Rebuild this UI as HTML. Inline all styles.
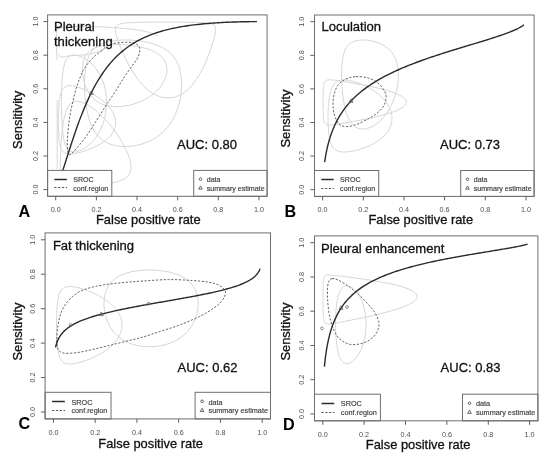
<!DOCTYPE html>
<html><head><meta charset="utf-8"><title>SROC curves</title>
<style>html,body{margin:0;padding:0;background:#fff}svg{display:block}</style></head>
<body>
<svg width="550" height="457" viewBox="0 0 550 457" font-family='"Liberation Sans", Arial, Helvetica, sans-serif'>
<rect width="550" height="457" fill="#fff"/>
<clipPath id="clipA"><rect x="47.6" y="14.9" width="219.5" height="181.4"/></clipPath>
<g clip-path="url(#clipA)" fill="none">
<path d="M215.6 29.5 L215.5 28.4 L215.4 27.5 L215.1 26.7 L214.8 26.1 L214.3 25.5 L213.7 25.0 L213.1 24.5 L212.3 24.2 L211.4 23.9 L210.4 23.6 L209.3 23.4 L208.1 23.2 L206.7 23.0 L205.3 22.8 L203.7 22.7 L202.0 22.6 L200.2 22.5 L198.3 22.4 L196.3 22.4 L194.1 22.3 L191.9 22.3 L189.6 22.2 L187.1 22.2 L184.6 22.2 L182.0 22.1 L179.3 22.1 L176.6 22.1 L173.8 22.1 L171.0 22.1 L168.1 22.1 L165.2 22.1 L162.3 22.1 L159.4 22.1 L156.6 22.1 L153.8 22.1 L151.0 22.2 L148.3 22.2 L145.6 22.2 L143.0 22.3 L140.5 22.3 L138.1 22.4 L135.8 22.4 L133.6 22.5 L131.6 22.6 L129.6 22.7 L127.8 22.8 L126.0 23.0 L124.4 23.2 L123.0 23.4 L121.6 23.6 L120.4 23.9 L119.4 24.2 L118.4 24.5 L117.6 25.0 L116.9 25.5 L116.3 26.1 L115.9 26.7 L115.6 27.5 L115.4 28.4 L115.3 29.5 L115.4 30.6 L115.6 32.0 L115.9 33.5 L116.3 35.2 L116.9 37.2 L117.6 39.3 L118.4 41.6 L119.4 44.2 L120.4 46.9 L121.6 49.9 L123.0 53.0 L124.4 56.2 L126.0 59.5 L127.8 63.0 L129.6 66.4 L131.6 69.8 L133.6 73.2 L135.8 76.5 L138.1 79.6 L140.5 82.6 L143.0 85.4 L145.6 88.0 L148.3 90.2 L151.0 92.3 L153.8 94.0 L156.6 95.4 L159.4 96.5 L162.3 97.4 L165.2 97.8 L168.1 98.0 L171.0 97.8 L173.8 97.4 L176.6 96.5 L179.3 95.4 L182.0 94.0 L184.6 92.3 L187.1 90.2 L189.6 88.0 L191.9 85.4 L194.1 82.6 L196.3 79.6 L198.3 76.5 L200.2 73.2 L202.0 69.8 L203.7 66.4 L205.3 63.0 L206.7 59.5 L208.1 56.2 L209.3 53.0 L210.4 49.9 L211.4 46.9 L212.3 44.2 L213.1 41.6 L213.7 39.3 L214.3 37.2 L214.8 35.2 L215.1 33.5 L215.4 32.0 L215.5 30.6Z" stroke="#d6d6d6" stroke-width="1"/>
<path d="M181.6 84.4 L181.5 81.2 L181.3 78.0 L180.9 75.0 L180.4 72.1 L179.7 69.3 L178.9 66.6 L177.9 64.1 L176.8 61.7 L175.5 59.5 L174.1 57.4 L172.6 55.5 L170.9 53.7 L169.1 52.0 L167.1 50.5 L165.0 49.1 L162.8 47.8 L160.5 46.6 L158.1 45.6 L155.6 44.6 L153.0 43.8 L150.3 43.0 L147.6 42.4 L144.8 41.8 L142.0 41.3 L139.2 40.9 L136.3 40.6 L133.5 40.3 L130.6 40.1 L127.8 40.0 L125.1 40.0 L122.4 40.0 L119.7 40.1 L117.1 40.3 L114.7 40.6 L112.2 40.9 L109.9 41.3 L107.7 41.8 L105.6 42.4 L103.6 43.0 L101.7 43.8 L99.9 44.6 L98.2 45.6 L96.6 46.6 L95.2 47.8 L93.8 49.1 L92.6 50.5 L91.4 52.0 L90.3 53.7 L89.4 55.5 L88.5 57.4 L87.7 59.5 L87.0 61.7 L86.4 64.1 L85.9 66.6 L85.5 69.3 L85.1 72.1 L84.8 75.0 L84.7 78.0 L84.5 81.2 L84.5 84.4 L84.5 87.7 L84.7 91.0 L84.8 94.4 L85.1 97.7 L85.5 101.1 L85.9 104.4 L86.4 107.7 L87.0 110.9 L87.7 114.0 L88.5 117.0 L89.4 119.9 L90.3 122.7 L91.4 125.3 L92.6 127.8 L93.8 130.1 L95.2 132.3 L96.6 134.3 L98.2 136.1 L99.9 137.8 L101.7 139.4 L103.6 140.8 L105.6 142.0 L107.7 143.1 L109.9 144.0 L112.2 144.8 L114.7 145.4 L117.1 145.9 L119.7 146.2 L122.4 146.4 L125.1 146.5 L127.8 146.4 L130.6 146.2 L133.5 145.9 L136.3 145.4 L139.2 144.8 L142.0 144.0 L144.8 143.1 L147.6 142.0 L150.3 140.8 L153.0 139.4 L155.6 137.8 L158.1 136.1 L160.5 134.3 L162.8 132.3 L165.0 130.1 L167.1 127.8 L169.1 125.3 L170.9 122.7 L172.6 119.9 L174.1 117.0 L175.5 114.0 L176.8 110.9 L177.9 107.7 L178.9 104.4 L179.7 101.1 L180.4 97.7 L180.9 94.4 L181.3 91.0 L181.5 87.7Z" stroke="#d6d6d6" stroke-width="1"/>
<path d="M167.0 69.8 L166.9 68.1 L166.7 66.5 L166.4 64.9 L165.9 63.4 L165.2 61.9 L164.4 60.5 L163.5 59.1 L162.5 57.8 L161.3 56.6 L160.0 55.4 L158.5 54.3 L157.0 53.3 L155.3 52.3 L153.5 51.3 L151.6 50.5 L149.6 49.7 L147.5 48.9 L145.3 48.3 L143.1 47.7 L140.8 47.1 L138.4 46.6 L136.1 46.1 L133.6 45.8 L131.2 45.4 L128.7 45.1 L126.3 44.9 L123.8 44.7 L121.4 44.6 L119.0 44.5 L116.7 44.5 L114.4 44.5 L112.2 44.6 L110.0 44.7 L107.9 44.9 L105.9 45.1 L103.9 45.4 L102.1 45.8 L100.3 46.1 L98.6 46.6 L97.0 47.1 L95.5 47.7 L94.1 48.3 L92.8 48.9 L91.5 49.7 L90.4 50.5 L89.3 51.3 L88.4 52.3 L87.5 53.3 L86.6 54.3 L85.9 55.4 L85.2 56.6 L84.7 57.8 L84.1 59.1 L83.7 60.5 L83.3 61.9 L83.0 63.4 L82.8 64.9 L82.6 66.5 L82.5 68.1 L82.5 69.8 L82.5 71.5 L82.6 73.2 L82.8 75.0 L83.0 76.8 L83.3 78.5 L83.7 80.3 L84.1 82.1 L84.7 83.9 L85.2 85.6 L85.9 87.3 L86.6 89.0 L87.5 90.6 L88.4 92.2 L89.3 93.8 L90.4 95.2 L91.5 96.6 L92.8 98.0 L94.1 99.2 L95.5 100.4 L97.0 101.4 L98.6 102.4 L100.3 103.3 L102.1 104.1 L103.9 104.8 L105.9 105.4 L107.9 105.8 L110.0 106.2 L112.2 106.5 L114.4 106.6 L116.7 106.7 L119.0 106.6 L121.4 106.5 L123.8 106.2 L126.3 105.8 L128.7 105.4 L131.2 104.8 L133.6 104.1 L136.1 103.3 L138.4 102.4 L140.8 101.4 L143.1 100.4 L145.3 99.2 L147.5 98.0 L149.6 96.6 L151.6 95.2 L153.5 93.8 L155.3 92.2 L157.0 90.6 L158.5 89.0 L160.0 87.3 L161.3 85.6 L162.5 83.9 L163.5 82.1 L164.4 80.3 L165.2 78.5 L165.9 76.8 L166.4 75.0 L166.7 73.2 L166.9 71.5Z" stroke="#d6d6d6" stroke-width="1"/>
<path d="M115.7 122.7 L115.6 120.8 L115.3 118.9 L114.8 117.0 L114.1 115.1 L113.2 113.2 L112.2 111.3 L111.0 109.4 L109.6 107.6 L108.1 105.8 L106.4 104.1 L104.6 102.4 L102.8 100.8 L100.8 99.2 L98.8 97.7 L96.7 96.3 L94.6 95.0 L92.5 93.7 L90.4 92.5 L88.3 91.4 L86.3 90.4 L84.3 89.5 L82.3 88.7 L80.4 88.0 L78.7 87.4 L77.0 86.8 L75.3 86.4 L73.8 86.0 L72.4 85.8 L71.1 85.6 L69.8 85.6 L68.7 85.6 L67.7 85.8 L66.7 86.0 L65.8 86.4 L65.0 86.8 L64.3 87.4 L63.6 88.0 L63.0 88.7 L62.4 89.5 L61.9 90.4 L61.5 91.4 L61.1 92.5 L60.7 93.7 L60.4 95.0 L60.1 96.3 L59.9 97.7 L59.6 99.2 L59.4 100.8 L59.2 102.4 L59.1 104.1 L58.9 105.8 L58.8 107.6 L58.7 109.4 L58.6 111.3 L58.6 113.2 L58.5 115.1 L58.5 117.0 L58.4 118.9 L58.4 120.8 L58.4 122.7 L58.4 124.6 L58.4 126.5 L58.5 128.3 L58.5 130.1 L58.6 131.9 L58.6 133.6 L58.7 135.2 L58.8 136.8 L58.9 138.3 L59.1 139.8 L59.2 141.2 L59.4 142.5 L59.6 143.8 L59.9 144.9 L60.1 146.1 L60.4 147.1 L60.7 148.1 L61.1 148.9 L61.5 149.8 L61.9 150.5 L62.4 151.2 L63.0 151.8 L63.6 152.3 L64.3 152.7 L65.0 153.1 L65.8 153.4 L66.7 153.7 L67.7 153.9 L68.7 154.0 L69.8 154.0 L71.1 154.0 L72.4 153.9 L73.8 153.7 L75.3 153.4 L77.0 153.1 L78.7 152.7 L80.4 152.3 L82.3 151.8 L84.3 151.2 L86.3 150.5 L88.3 149.8 L90.4 148.9 L92.5 148.1 L94.6 147.1 L96.7 146.1 L98.8 144.9 L100.8 143.8 L102.8 142.5 L104.6 141.2 L106.4 139.8 L108.1 138.3 L109.6 136.8 L111.0 135.2 L112.2 133.6 L113.2 131.9 L114.1 130.1 L114.8 128.3 L115.3 126.5 L115.6 124.6Z" stroke="#d6d6d6" stroke-width="1"/>
<path d="M131.0 167.0 L130.9 164.9 L130.6 162.7 L130.1 160.3 L129.3 157.8 L128.4 155.1 L127.3 152.3 L126.0 149.4 L124.5 146.5 L122.8 143.4 L121.0 140.3 L119.1 137.2 L117.0 134.1 L114.8 131.0 L112.5 128.0 L110.2 125.1 L107.8 122.3 L105.3 119.5 L102.8 117.0 L100.3 114.6 L97.9 112.3 L95.4 110.3 L93.0 108.4 L90.7 106.8 L88.5 105.3 L86.3 104.1 L84.2 103.1 L82.2 102.3 L80.3 101.8 L78.6 101.4 L76.9 101.3 L75.4 101.4 L73.9 101.8 L72.6 102.3 L71.3 103.1 L70.2 104.1 L69.1 105.3 L68.1 106.8 L67.3 108.4 L66.5 110.3 L65.7 112.3 L65.1 114.6 L64.5 117.0 L63.9 119.5 L63.4 122.3 L63.0 125.1 L62.6 128.0 L62.2 131.0 L61.9 134.1 L61.6 137.2 L61.4 140.3 L61.2 143.4 L61.0 146.5 L60.8 149.4 L60.7 152.3 L60.6 155.1 L60.5 157.8 L60.4 160.3 L60.3 162.7 L60.3 164.9 L60.3 167.0 L60.3 168.9 L60.3 170.7 L60.4 172.4 L60.5 173.9 L60.6 175.2 L60.7 176.5 L60.8 177.6 L61.0 178.6 L61.2 179.5 L61.4 180.3 L61.6 181.1 L61.9 181.7 L62.2 182.3 L62.6 182.9 L63.0 183.3 L63.4 183.7 L63.9 184.1 L64.5 184.4 L65.1 184.7 L65.7 185.0 L66.5 185.2 L67.3 185.4 L68.1 185.5 L69.1 185.6 L70.2 185.8 L71.3 185.8 L72.6 185.9 L73.9 186.0 L75.4 186.0 L76.9 186.0 L78.6 186.0 L80.3 186.0 L82.2 185.9 L84.2 185.8 L86.3 185.8 L88.5 185.6 L90.7 185.5 L93.0 185.4 L95.4 185.2 L97.9 185.0 L100.3 184.7 L102.8 184.4 L105.3 184.1 L107.8 183.7 L110.2 183.3 L112.5 182.9 L114.8 182.3 L117.0 181.7 L119.1 181.1 L121.0 180.3 L122.8 179.5 L124.5 178.6 L126.0 177.6 L127.3 176.5 L128.4 175.2 L129.3 173.9 L130.1 172.4 L130.6 170.7 L130.9 168.9Z" stroke="#d6d6d6" stroke-width="1"/>
<path d="M106.5 102.4 L106.4 99.6 L106.2 96.7 L105.9 93.9 L105.5 91.1 L104.9 88.4 L104.3 85.7 L103.5 83.2 L102.6 80.7 L101.6 78.3 L100.5 76.1 L99.4 73.9 L98.2 71.9 L96.9 70.0 L95.5 68.2 L94.2 66.5 L92.7 65.0 L91.3 63.6 L89.8 62.3 L88.4 61.1 L86.9 60.0 L85.5 59.0 L84.0 58.2 L82.6 57.4 L81.3 56.8 L79.9 56.2 L78.6 55.8 L77.4 55.4 L76.2 55.2 L75.1 55.0 L74.0 55.0 L72.9 55.0 L72.0 55.2 L71.1 55.4 L70.2 55.8 L69.4 56.2 L68.6 56.8 L67.9 57.4 L67.3 58.2 L66.6 59.0 L66.1 60.0 L65.6 61.1 L65.1 62.3 L64.6 63.6 L64.2 65.0 L63.9 66.5 L63.5 68.2 L63.2 70.0 L63.0 71.9 L62.7 73.9 L62.5 76.1 L62.3 78.3 L62.1 80.7 L62.0 83.2 L61.8 85.7 L61.7 88.4 L61.7 91.1 L61.6 93.9 L61.5 96.7 L61.5 99.6 L61.5 102.4 L61.5 105.3 L61.5 108.2 L61.6 111.1 L61.7 113.9 L61.7 116.7 L61.8 119.4 L62.0 122.1 L62.1 124.6 L62.3 127.1 L62.5 129.5 L62.7 131.7 L63.0 133.9 L63.2 135.9 L63.5 137.8 L63.9 139.6 L64.2 141.2 L64.6 142.7 L65.1 144.1 L65.6 145.4 L66.1 146.6 L66.6 147.6 L67.3 148.6 L67.9 149.4 L68.6 150.1 L69.4 150.7 L70.2 151.2 L71.1 151.5 L72.0 151.8 L72.9 151.9 L74.0 152.0 L75.1 151.9 L76.2 151.8 L77.4 151.5 L78.6 151.2 L79.9 150.7 L81.3 150.1 L82.6 149.4 L84.0 148.6 L85.5 147.6 L86.9 146.6 L88.4 145.4 L89.8 144.1 L91.3 142.7 L92.7 141.2 L94.2 139.6 L95.5 137.8 L96.9 135.9 L98.2 133.9 L99.4 131.7 L100.5 129.5 L101.6 127.1 L102.6 124.6 L103.5 122.1 L104.3 119.4 L104.9 116.7 L105.5 113.9 L105.9 111.1 L106.2 108.2 L106.4 105.3Z" stroke="#d6d6d6" stroke-width="1"/>
<path d="M57.0 60.0 C56.9 57.5 56.5 49.8 56.5 45.0 C56.5 40.2 56.1 33.9 57.0 31.0 C57.9 28.1 59.0 28.2 62.0 27.5 C65.0 26.8 69.8 26.8 75.0 26.6 C80.2 26.5 85.7 26.4 93.0 26.6 C100.3 26.8 111.5 27.4 119.0 28.0 C126.5 28.6 132.7 29.2 138.0 30.0 C143.3 30.8 147.7 32.0 151.0 33.0 C154.3 34.0 156.8 35.5 158.0 36.0" stroke="#d6d6d6" stroke-width="1"/>
<path d="M57.7 54.0 C58.3 54.5 59.4 56.7 61.5 57.0 C63.6 57.3 66.9 56.0 70.5 55.7 C74.1 55.4 78.8 55.5 83.0 55.0 C87.2 54.5 92.2 53.7 96.0 52.5 C99.8 51.3 104.3 48.8 106.0 48.0" stroke="#d6d6d6" stroke-width="1"/>
<path d="M57.2 100.0 C57.2 111.5 57.2 157.5 57.2 169.0" stroke="#d6d6d6" stroke-width="1"/>
<path d="M101.0 51.3 C102.7 49.8 104.5 47.5 106.4 46.2 C108.4 45.0 110.6 44.4 112.7 43.8 C114.8 43.2 116.9 43.0 119.0 42.8 C121.1 42.5 123.4 42.3 125.5 42.3 C127.6 42.2 129.9 42.1 131.8 42.5 C133.7 42.9 135.7 43.5 137.0 44.5 C138.3 45.5 139.3 46.9 139.7 48.3 C140.1 49.7 139.9 50.9 139.5 52.7 C139.1 54.5 138.4 56.5 137.0 59.0 C135.6 61.5 133.0 64.7 131.0 67.5 C129.0 70.3 126.8 73.2 125.0 76.0 C123.2 78.8 121.7 81.3 120.0 84.0 C118.3 86.7 116.7 89.4 115.0 92.0 C113.3 94.6 111.7 97.0 110.0 99.5 C108.3 102.0 106.9 104.0 105.0 107.0 C103.1 110.0 100.7 114.1 98.5 117.5 C96.3 120.9 94.1 124.2 92.0 127.5 C89.9 130.8 87.8 134.1 85.7 137.0 C83.6 139.9 81.5 142.5 79.4 145.0 C77.3 147.5 74.7 150.6 73.0 152.2 C71.3 153.8 70.1 154.9 69.2 154.7 C68.3 154.5 68.0 153.1 67.7 151.0 C67.4 148.9 67.2 145.2 67.3 142.0 C67.3 138.8 67.7 135.4 68.0 131.8 C68.3 128.2 68.7 124.0 69.2 120.4 C69.7 116.8 70.3 113.6 71.0 110.0 C71.7 106.4 72.7 102.6 73.6 99.0 C74.5 95.4 75.2 91.5 76.2 88.2 C77.2 84.9 78.2 82.3 79.4 79.3 C80.6 76.3 81.5 73.4 83.2 70.4 C84.9 67.4 87.4 64.1 89.5 61.5 C91.6 58.9 94.1 56.7 96.0 55.0 C97.9 53.3 99.3 52.8 101.0 51.3Z" stroke="#555" stroke-width="0.9" stroke-dasharray="2.2 1.6"/>
<path d="M57.76 184.74 L57.97 184.22 L58.17 183.70 L58.37 183.17 L58.58 182.63 L58.78 182.09 L58.98 181.54 L59.18 180.98 L59.39 180.42 L59.59 179.85 L59.79 179.28 L60.00 178.71 L60.20 178.13 L60.40 177.54 L60.61 176.96 L60.81 176.36 L61.01 175.77 L61.22 175.17 L61.42 174.57 L61.62 173.96 L61.83 173.35 L62.03 172.74 L62.23 172.13 L62.44 171.51 L62.64 170.89 L62.84 170.27 L63.05 169.65 L63.25 169.03 L63.45 168.40 L63.66 167.77 L63.86 167.14 L64.06 166.51 L64.27 165.88 L64.47 165.25 L64.67 164.61 L64.88 163.98 L65.08 163.34 L65.28 162.70 L65.49 162.07 L65.69 161.43 L65.89 160.79 L67.92 154.40 L69.96 148.05 L71.99 141.81 L74.02 135.72 L76.05 129.81 L78.09 124.11 L80.12 118.63 L82.15 113.39 L84.18 108.38 L86.22 103.62 L88.25 99.09 L90.28 94.80 L92.31 90.73 L94.35 86.88 L96.38 83.24 L98.41 79.80 L100.44 76.55 L102.48 73.49 L104.51 70.59 L106.54 67.86 L108.57 65.28 L110.60 62.85 L112.64 60.56 L114.67 58.39 L116.70 56.35 L118.73 54.42 L120.77 52.60 L122.80 50.88 L124.83 49.25 L126.86 47.72 L128.90 46.27 L130.93 44.90 L132.96 43.60 L134.99 42.37 L137.03 41.21 L139.06 40.12 L141.09 39.08 L143.12 38.09 L145.16 37.16 L147.19 36.28 L149.22 35.45 L151.25 34.65 L153.29 33.90 L155.32 33.19 L157.35 32.52 L159.38 31.88 L161.41 31.27 L163.45 30.70 L165.48 30.15 L167.51 29.63 L169.54 29.14 L171.58 28.68 L173.61 28.23 L175.64 27.82 L177.67 27.42 L179.71 27.04 L181.74 26.68 L183.77 26.35 L185.80 26.03 L187.84 25.72 L189.87 25.43 L191.90 25.16 L193.93 24.90 L195.97 24.66 L198.00 24.43 L200.03 24.21 L202.06 24.00 L204.10 23.81 L206.13 23.62 L208.16 23.45 L210.19 23.29 L212.23 23.13 L214.26 22.99 L216.29 22.86 L218.32 22.73 L220.35 22.61 L222.39 22.50 L224.42 22.40 L226.45 22.30 L228.48 22.22 L230.52 22.13 L232.55 22.06 L234.58 21.99 L236.61 21.93 L238.65 21.87 L240.68 21.82 L242.71 21.78 L244.74 21.74 L246.78 21.71 L248.81 21.68 L249.32 21.67 L249.82 21.67 L250.33 21.66 L250.84 21.66 L251.35 21.65 L251.86 21.65 L252.37 21.64 L252.87 21.64 L253.38 21.64 L253.89 21.63 L254.40 21.63 L254.91 21.63 L255.41 21.63 L255.92 21.62 L256.43 21.62 L256.94 21.62" stroke="#2a2a2a" stroke-width="1.4" stroke-linecap="butt" stroke-linejoin="round"/>
<path d="M91.4 90.8 L89.4 94.4 L93.4 94.4 Z" stroke="#555" stroke-width="0.7"/>
</g>
<rect x="47.6" y="170.4" width="64.2" height="25.9" fill="#fff" stroke="#6f6f6f" stroke-width="1"/>
<path d="M54.4 179.5 h12.4" stroke="#2a2a2a" stroke-width="1.5"/>
<path d="M54.4 187.5 h12.6" stroke="#555" stroke-width="1" stroke-dasharray="2.2 1.6"/>
<text x="73.2" y="182.3" font-size="7.10" fill="#3c3c3c" stroke="#3c3c3c" stroke-width="0.15">SROC</text>
<text x="73.2" y="190.8" font-size="7.10" fill="#3c3c3c" stroke="#3c3c3c" stroke-width="0.15">conf.region</text>
<rect x="193.7" y="170.4" width="73.4" height="25.9" fill="#fff" stroke="#6f6f6f" stroke-width="1"/>
<circle cx="200.5" cy="179.2" r="1.3" fill="none" stroke="#444" stroke-width="0.8"/>
<path d="M200.5 185.9 L198.7 189.1 L202.3 189.1 Z" fill="none" stroke="#444" stroke-width="0.8"/>
<text x="206.7" y="182.3" font-size="7.10" fill="#3c3c3c" stroke="#3c3c3c" stroke-width="0.15">data</text>
<text x="206.7" y="190.8" font-size="7.10" fill="#3c3c3c" stroke="#3c3c3c" stroke-width="0.15">summary estimate</text>
<rect x="47.6" y="14.9" width="219.5" height="181.4" fill="none" stroke="#6f6f6f" stroke-width="1"/>
<path d="M55.7 196.3 v4" stroke="#606060" stroke-width="1"/>
<path d="M47.6 189.6 h-4.2" stroke="#606060" stroke-width="1"/>
<text x="55.7" y="212.3" font-size="7.2" fill="#4b4e56" text-anchor="middle">0.0</text>
<text transform="translate(37.6 189.6) rotate(-90)" font-size="7.2" fill="#4b4e56" text-anchor="middle">0.0</text>
<path d="M96.4 196.3 v4" stroke="#606060" stroke-width="1"/>
<path d="M47.6 156.0 h-4.2" stroke="#606060" stroke-width="1"/>
<text x="96.4" y="212.3" font-size="7.2" fill="#4b4e56" text-anchor="middle">0.2</text>
<text transform="translate(37.6 156.0) rotate(-90)" font-size="7.2" fill="#4b4e56" text-anchor="middle">0.2</text>
<path d="M137.0 196.3 v4" stroke="#606060" stroke-width="1"/>
<path d="M47.6 122.4 h-4.2" stroke="#606060" stroke-width="1"/>
<text x="137.0" y="212.3" font-size="7.2" fill="#4b4e56" text-anchor="middle">0.4</text>
<text transform="translate(37.6 122.4) rotate(-90)" font-size="7.2" fill="#4b4e56" text-anchor="middle">0.4</text>
<path d="M177.7 196.3 v4" stroke="#606060" stroke-width="1"/>
<path d="M47.6 88.8 h-4.2" stroke="#606060" stroke-width="1"/>
<text x="177.7" y="212.3" font-size="7.2" fill="#4b4e56" text-anchor="middle">0.6</text>
<text transform="translate(37.6 88.8) rotate(-90)" font-size="7.2" fill="#4b4e56" text-anchor="middle">0.6</text>
<path d="M218.3 196.3 v4" stroke="#606060" stroke-width="1"/>
<path d="M47.6 55.2 h-4.2" stroke="#606060" stroke-width="1"/>
<text x="218.3" y="212.3" font-size="7.2" fill="#4b4e56" text-anchor="middle">0.8</text>
<text transform="translate(37.6 55.2) rotate(-90)" font-size="7.2" fill="#4b4e56" text-anchor="middle">0.8</text>
<path d="M259.0 196.3 v4" stroke="#606060" stroke-width="1"/>
<path d="M47.6 21.6 h-4.2" stroke="#606060" stroke-width="1"/>
<text x="259.0" y="212.3" font-size="7.2" fill="#4b4e56" text-anchor="middle">1.0</text>
<text transform="translate(37.6 21.6) rotate(-90)" font-size="7.2" fill="#4b4e56" text-anchor="middle">1.0</text>
<text x="54.0" y="30.5" font-size="13.05" fill="#111" stroke="#111" stroke-width="0.3">Pleural</text>
<text x="54.0" y="46.2" font-size="13.05" fill="#111" stroke="#111" stroke-width="0.3">thickening</text>
<text x="177.0" y="148.8" font-size="13" fill="#111" stroke="#111" stroke-width="0.3">AUC: 0.80</text>
<text x="96.0" y="223.9" font-size="12.9" fill="#111" stroke="#111" stroke-width="0.3">False positive rate</text>
<text transform="translate(21.9 148.9) rotate(-90)" font-size="12.9" fill="#111" stroke="#111" stroke-width="0.3">Sensitivity</text>
<text x="18.6" y="216.6" font-size="16.2" font-weight="bold" fill="#000">A</text>
<clipPath id="clipB"><rect x="314.5" y="15.0" width="219.6" height="181.4"/></clipPath>
<g clip-path="url(#clipB)" fill="none">
<path d="M398.4 75.0 L398.3 72.5 L398.2 70.1 L397.9 67.7 L397.5 65.4 L397.0 63.3 L396.4 61.2 L395.7 59.3 L394.8 57.4 L393.9 55.7 L392.9 54.0 L391.8 52.5 L390.6 51.1 L389.4 49.8 L388.0 48.5 L386.6 47.4 L385.2 46.4 L383.7 45.4 L382.1 44.6 L380.6 43.8 L379.0 43.1 L377.3 42.5 L375.7 42.0 L374.0 41.5 L372.4 41.1 L370.8 40.8 L369.1 40.5 L367.5 40.3 L366.0 40.1 L364.4 40.0 L362.9 40.0 L361.5 40.0 L360.1 40.1 L358.7 40.3 L357.4 40.5 L356.1 40.8 L354.9 41.1 L353.7 41.5 L352.6 42.0 L351.6 42.5 L350.6 43.1 L349.7 43.8 L348.8 44.6 L348.0 45.4 L347.2 46.4 L346.5 47.4 L345.8 48.5 L345.2 49.8 L344.7 51.1 L344.2 52.5 L343.7 54.0 L343.3 55.7 L342.9 57.4 L342.6 59.3 L342.4 61.2 L342.1 63.3 L341.9 65.4 L341.8 67.7 L341.7 70.1 L341.6 72.5 L341.6 75.0 L341.6 77.6 L341.7 80.2 L341.8 82.9 L341.9 85.6 L342.1 88.3 L342.4 91.0 L342.6 93.7 L342.9 96.4 L343.3 99.0 L343.7 101.6 L344.2 104.1 L344.7 106.5 L345.2 108.8 L345.8 111.1 L346.5 113.2 L347.2 115.2 L348.0 117.1 L348.8 118.8 L349.7 120.4 L350.6 121.9 L351.6 123.2 L352.6 124.5 L353.7 125.5 L354.9 126.4 L356.1 127.2 L357.4 127.9 L358.7 128.4 L360.1 128.7 L361.5 128.9 L362.9 129.0 L364.4 128.9 L366.0 128.7 L367.5 128.4 L369.1 127.9 L370.8 127.2 L372.4 126.4 L374.0 125.5 L375.7 124.5 L377.3 123.2 L379.0 121.9 L380.6 120.4 L382.1 118.8 L383.7 117.1 L385.2 115.2 L386.6 113.2 L388.0 111.1 L389.4 108.8 L390.6 106.5 L391.8 104.1 L392.9 101.6 L393.9 99.0 L394.8 96.4 L395.7 93.7 L396.4 91.0 L397.0 88.3 L397.5 85.6 L397.9 82.9 L398.2 80.2 L398.3 77.6Z" stroke="#d6d6d6" stroke-width="1"/>
<path d="M406.4 102.1 L406.2 100.9 L405.6 99.7 L404.6 98.5 L403.2 97.3 L401.4 96.2 L399.3 95.0 L396.8 93.9 L394.1 92.8 L391.0 91.7 L387.6 90.7 L384.1 89.7 L380.4 88.7 L376.5 87.8 L372.6 86.9 L368.7 86.1 L364.8 85.3 L360.9 84.6 L357.2 83.9 L353.7 83.2 L350.4 82.6 L347.2 82.1 L344.3 81.6 L341.7 81.2 L339.3 80.8 L337.2 80.5 L335.2 80.3 L333.5 80.1 L332.1 79.9 L330.8 79.8 L329.6 79.8 L328.6 79.8 L327.8 79.9 L327.1 80.1 L326.5 80.3 L325.9 80.5 L325.5 80.8 L325.1 81.2 L324.8 81.6 L324.5 82.1 L324.3 82.6 L324.1 83.2 L323.9 83.9 L323.7 84.6 L323.6 85.3 L323.5 86.1 L323.4 86.9 L323.3 87.8 L323.3 88.7 L323.2 89.7 L323.2 90.7 L323.1 91.7 L323.1 92.8 L323.1 93.9 L323.1 95.0 L323.0 96.2 L323.0 97.3 L323.0 98.5 L323.0 99.7 L323.0 100.9 L323.0 102.1 L323.0 103.4 L323.0 104.6 L323.0 105.8 L323.0 107.0 L323.0 108.1 L323.1 109.3 L323.1 110.5 L323.1 111.6 L323.1 112.7 L323.2 113.7 L323.2 114.7 L323.3 115.7 L323.3 116.7 L323.4 117.6 L323.5 118.5 L323.6 119.3 L323.7 120.0 L323.9 120.8 L324.1 121.4 L324.3 122.0 L324.5 122.6 L324.8 123.1 L325.1 123.5 L325.5 123.9 L325.9 124.2 L326.5 124.5 L327.1 124.7 L327.8 124.9 L328.6 125.0 L329.6 125.0 L330.8 125.0 L332.1 124.9 L333.5 124.7 L335.2 124.5 L337.2 124.2 L339.3 123.9 L341.7 123.5 L344.3 123.1 L347.2 122.6 L350.4 122.0 L353.7 121.4 L357.2 120.8 L360.9 120.0 L364.8 119.3 L368.7 118.5 L372.6 117.6 L376.5 116.7 L380.4 115.7 L384.1 114.7 L387.6 113.7 L391.0 112.7 L394.1 111.6 L396.8 110.5 L399.3 109.3 L401.4 108.1 L403.2 107.0 L404.6 105.8 L405.6 104.6 L406.2 103.4Z" stroke="#d6d6d6" stroke-width="1"/>
<path d="M392.0 118.4 L391.9 116.4 L391.6 114.3 L391.2 112.3 L390.5 110.3 L389.7 108.3 L388.7 106.3 L387.6 104.4 L386.3 102.5 L384.9 100.6 L383.3 98.8 L381.6 97.1 L379.8 95.4 L377.8 93.8 L375.9 92.3 L373.8 90.8 L371.7 89.5 L369.5 88.2 L367.4 87.0 L365.2 85.9 L363.0 84.9 L360.8 83.9 L358.7 83.1 L356.7 82.4 L354.6 81.8 L352.7 81.2 L350.8 80.8 L349.0 80.4 L347.3 80.2 L345.7 80.0 L344.2 80.0 L342.7 80.0 L341.4 80.2 L340.1 80.4 L338.9 80.8 L337.8 81.2 L336.8 81.8 L335.9 82.4 L335.0 83.1 L334.3 83.9 L333.5 84.9 L332.9 85.9 L332.3 87.0 L331.7 88.2 L331.2 89.5 L330.8 90.8 L330.4 92.3 L330.0 93.8 L329.7 95.4 L329.4 97.1 L329.1 98.8 L328.9 100.6 L328.7 102.5 L328.5 104.4 L328.4 106.3 L328.3 108.3 L328.2 110.3 L328.1 112.3 L328.0 114.3 L328.0 116.4 L328.0 118.4 L328.0 120.4 L328.0 122.4 L328.1 124.3 L328.2 126.2 L328.3 128.1 L328.4 129.9 L328.5 131.7 L328.7 133.4 L328.9 135.0 L329.1 136.6 L329.4 138.1 L329.7 139.5 L330.0 140.9 L330.4 142.2 L330.8 143.4 L331.2 144.5 L331.7 145.6 L332.3 146.5 L332.9 147.4 L333.5 148.2 L334.3 148.9 L335.0 149.6 L335.9 150.2 L336.8 150.6 L337.8 151.1 L338.9 151.4 L340.1 151.7 L341.4 151.8 L342.7 152.0 L344.2 152.0 L345.7 152.0 L347.3 151.8 L349.0 151.7 L350.8 151.4 L352.7 151.1 L354.6 150.6 L356.7 150.2 L358.7 149.6 L360.8 148.9 L363.0 148.2 L365.2 147.4 L367.4 146.5 L369.5 145.6 L371.7 144.5 L373.8 143.4 L375.9 142.2 L377.8 140.9 L379.8 139.5 L381.6 138.1 L383.3 136.6 L384.9 135.0 L386.3 133.4 L387.6 131.7 L388.7 129.9 L389.7 128.1 L390.5 126.2 L391.2 124.3 L391.6 122.4 L391.9 120.4Z" stroke="#d6d6d6" stroke-width="1"/>
<path d="M356.0 76.6 C359.7 76.4 364.3 76.9 368.0 78.0 C371.7 79.1 375.2 80.7 378.0 83.0 C380.8 85.3 383.7 89.3 385.0 92.0 C386.3 94.7 386.3 96.5 386.0 99.0 C385.7 101.5 384.7 104.5 383.0 107.0 C381.3 109.5 378.8 111.8 376.0 114.0 C373.2 116.2 369.3 118.2 366.0 120.0 C362.7 121.8 359.3 123.5 356.0 124.6 C352.7 125.7 348.8 126.7 346.0 126.6 C343.2 126.5 340.9 125.9 339.0 124.0 C337.1 122.1 335.4 118.2 334.4 115.0 C333.4 111.8 333.1 108.3 333.0 105.0 C332.9 101.7 333.2 98.3 334.0 95.0 C334.8 91.7 336.0 87.7 338.0 85.0 C340.0 82.3 343.0 80.4 346.0 79.0 C349.0 77.6 352.3 76.8 356.0 76.6Z" stroke="#555" stroke-width="0.9" stroke-dasharray="2.2 1.6"/>
<path d="M324.67 162.14 L324.87 160.70 L325.07 159.35 L325.28 158.05 L325.48 156.82 L325.68 155.63 L325.89 154.50 L326.09 153.40 L326.29 152.35 L326.50 151.33 L326.70 150.35 L326.90 149.39 L327.11 148.47 L327.31 147.57 L327.51 146.70 L327.72 145.86 L327.92 145.03 L328.12 144.23 L328.33 143.45 L328.53 142.68 L328.73 141.94 L328.94 141.21 L329.14 140.49 L329.34 139.80 L329.55 139.11 L329.75 138.44 L329.95 137.79 L330.16 137.15 L330.36 136.52 L330.56 135.90 L330.77 135.30 L330.97 134.70 L331.17 134.12 L331.38 133.54 L331.58 132.98 L331.78 132.42 L331.99 131.88 L332.19 131.34 L332.39 130.81 L332.60 130.29 L332.80 129.78 L334.83 125.06 L336.87 120.92 L338.90 117.23 L340.93 113.91 L342.97 110.88 L345.00 108.10 L347.03 105.53 L349.07 103.15 L351.10 100.92 L353.13 98.82 L355.17 96.85 L357.20 94.98 L359.23 93.21 L361.27 91.53 L363.30 89.92 L365.33 88.39 L367.37 86.92 L369.40 85.51 L371.43 84.15 L373.47 82.85 L375.50 81.59 L377.53 80.37 L379.57 79.19 L381.60 78.05 L383.63 76.95 L385.67 75.87 L387.70 74.83 L389.73 73.81 L391.77 72.82 L393.80 71.86 L395.83 70.92 L397.87 70.00 L399.90 69.10 L401.93 68.22 L403.97 67.36 L406.00 66.52 L408.03 65.69 L410.07 64.88 L412.10 64.08 L414.13 63.29 L416.17 62.52 L418.20 61.77 L420.23 61.02 L422.27 60.28 L424.30 59.56 L426.33 58.84 L428.37 58.14 L430.40 57.44 L432.43 56.75 L434.47 56.07 L436.50 55.40 L438.53 54.73 L440.57 54.07 L442.60 53.42 L444.63 52.77 L446.67 52.13 L448.70 51.49 L450.73 50.86 L452.77 50.23 L454.80 49.60 L456.83 48.98 L458.87 48.36 L460.90 47.74 L462.93 47.12 L464.97 46.51 L467.00 45.89 L469.03 45.28 L471.07 44.67 L473.10 44.05 L475.13 43.44 L477.17 42.82 L479.20 42.21 L481.23 41.59 L483.27 40.96 L485.30 40.34 L487.33 39.71 L489.37 39.07 L491.40 38.42 L493.43 37.77 L495.47 37.11 L497.50 36.44 L499.53 35.76 L501.57 35.06 L503.60 34.35 L505.63 33.62 L507.67 32.86 L509.70 32.08 L511.73 31.26 L513.77 30.41 L515.80 29.50 L516.31 29.26 L516.82 29.02 L517.33 28.77 L517.83 28.52 L518.34 28.26 L518.85 28.00 L519.36 27.72 L519.87 27.44 L520.37 27.15 L520.88 26.85 L521.39 26.54 L521.90 26.22 L522.41 25.87 L522.92 25.51 L523.42 25.12 L523.93 24.70" stroke="#2a2a2a" stroke-width="1.4" stroke-linecap="butt" stroke-linejoin="round"/>
<path d="M351.0 98.8 L349.0 102.4 L353.0 102.4 Z" stroke="#555" stroke-width="0.7"/>
</g>
<rect x="314.5" y="170.5" width="64.2" height="25.9" fill="#fff" stroke="#6f6f6f" stroke-width="1"/>
<path d="M321.3 179.5 h12.4" stroke="#2a2a2a" stroke-width="1.5"/>
<path d="M321.3 188.5 h12.6" stroke="#555" stroke-width="1" stroke-dasharray="2.2 1.6"/>
<text x="340.1" y="182.4" font-size="7.10" fill="#3c3c3c" stroke="#3c3c3c" stroke-width="0.15">SROC</text>
<text x="340.1" y="190.9" font-size="7.10" fill="#3c3c3c" stroke="#3c3c3c" stroke-width="0.15">conf.region</text>
<rect x="460.7" y="170.5" width="73.4" height="25.9" fill="#fff" stroke="#6f6f6f" stroke-width="1"/>
<circle cx="467.5" cy="179.3" r="1.3" fill="none" stroke="#444" stroke-width="0.8"/>
<path d="M467.5 186.0 L465.7 189.2 L469.3 189.2 Z" fill="none" stroke="#444" stroke-width="0.8"/>
<text x="473.7" y="182.4" font-size="7.10" fill="#3c3c3c" stroke="#3c3c3c" stroke-width="0.15">data</text>
<text x="473.7" y="190.9" font-size="7.10" fill="#3c3c3c" stroke="#3c3c3c" stroke-width="0.15">summary estimate</text>
<rect x="314.5" y="15.0" width="219.6" height="181.4" fill="none" stroke="#6f6f6f" stroke-width="1"/>
<path d="M322.6 196.4 v4" stroke="#606060" stroke-width="1"/>
<path d="M314.5 189.7 h-4.2" stroke="#606060" stroke-width="1"/>
<text x="322.6" y="212.3" font-size="7.2" fill="#4b4e56" text-anchor="middle">0.0</text>
<text transform="translate(304.3 189.7) rotate(-90)" font-size="7.2" fill="#4b4e56" text-anchor="middle">0.0</text>
<path d="M363.3 196.4 v4" stroke="#606060" stroke-width="1"/>
<path d="M314.5 156.1 h-4.2" stroke="#606060" stroke-width="1"/>
<text x="363.3" y="212.3" font-size="7.2" fill="#4b4e56" text-anchor="middle">0.2</text>
<text transform="translate(304.3 156.1) rotate(-90)" font-size="7.2" fill="#4b4e56" text-anchor="middle">0.2</text>
<path d="M404.0 196.4 v4" stroke="#606060" stroke-width="1"/>
<path d="M314.5 122.5 h-4.2" stroke="#606060" stroke-width="1"/>
<text x="404.0" y="212.3" font-size="7.2" fill="#4b4e56" text-anchor="middle">0.4</text>
<text transform="translate(304.3 122.5) rotate(-90)" font-size="7.2" fill="#4b4e56" text-anchor="middle">0.4</text>
<path d="M444.6 196.4 v4" stroke="#606060" stroke-width="1"/>
<path d="M314.5 88.9 h-4.2" stroke="#606060" stroke-width="1"/>
<text x="444.6" y="212.3" font-size="7.2" fill="#4b4e56" text-anchor="middle">0.6</text>
<text transform="translate(304.3 88.9) rotate(-90)" font-size="7.2" fill="#4b4e56" text-anchor="middle">0.6</text>
<path d="M485.3 196.4 v4" stroke="#606060" stroke-width="1"/>
<path d="M314.5 55.3 h-4.2" stroke="#606060" stroke-width="1"/>
<text x="485.3" y="212.3" font-size="7.2" fill="#4b4e56" text-anchor="middle">0.8</text>
<text transform="translate(304.3 55.3) rotate(-90)" font-size="7.2" fill="#4b4e56" text-anchor="middle">0.8</text>
<path d="M526.0 196.4 v4" stroke="#606060" stroke-width="1"/>
<path d="M314.5 21.7 h-4.2" stroke="#606060" stroke-width="1"/>
<text x="526.0" y="212.3" font-size="7.2" fill="#4b4e56" text-anchor="middle">1.0</text>
<text transform="translate(304.3 21.7) rotate(-90)" font-size="7.2" fill="#4b4e56" text-anchor="middle">1.0</text>
<text x="321.6" y="30.8" font-size="13.05" fill="#111" stroke="#111" stroke-width="0.3">Loculation</text>
<text x="440.0" y="148.8" font-size="13" fill="#111" stroke="#111" stroke-width="0.3">AUC: 0.73</text>
<text x="368.5" y="224.1" font-size="12.9" fill="#111" stroke="#111" stroke-width="0.3">False positive rate</text>
<text transform="translate(290.3 147.6) rotate(-90)" font-size="12.9" fill="#111" stroke="#111" stroke-width="0.3">Sensitivity</text>
<text x="284.4" y="216.9" font-size="16.2" font-weight="bold" fill="#000">B</text>
<clipPath id="clipC"><rect x="45.1" y="232.9" width="225.4" height="186.0"/></clipPath>
<g clip-path="url(#clipC)" fill="none">
<path d="M122.0 325.1 L121.9 322.9 L121.6 320.7 L121.0 318.6 L120.3 316.4 L119.3 314.4 L118.1 312.3 L116.8 310.3 L115.2 308.4 L113.5 306.5 L111.7 304.7 L109.7 302.9 L107.6 301.3 L105.4 299.7 L103.1 298.2 L100.8 296.8 L98.4 295.4 L96.0 294.2 L93.6 293.1 L91.2 292.0 L88.8 291.1 L86.5 290.2 L84.3 289.4 L82.1 288.7 L80.1 288.1 L78.1 287.6 L76.2 287.2 L74.5 286.9 L72.8 286.7 L71.3 286.5 L69.8 286.5 L68.5 286.5 L67.3 286.7 L66.2 286.9 L65.1 287.2 L64.2 287.6 L63.3 288.1 L62.5 288.7 L61.8 289.4 L61.2 290.2 L60.6 291.1 L60.1 292.0 L59.6 293.1 L59.2 294.2 L58.8 295.4 L58.5 296.8 L58.2 298.2 L57.9 299.7 L57.7 301.3 L57.5 302.9 L57.3 304.7 L57.1 306.5 L57.0 308.4 L56.9 310.3 L56.8 312.3 L56.7 314.4 L56.6 316.4 L56.6 318.6 L56.5 320.7 L56.5 322.9 L56.5 325.1 L56.5 327.3 L56.5 329.4 L56.6 331.6 L56.6 333.7 L56.7 335.8 L56.8 337.9 L56.9 339.9 L57.0 341.9 L57.1 343.8 L57.3 345.6 L57.5 347.4 L57.7 349.0 L57.9 350.6 L58.2 352.2 L58.5 353.6 L58.8 354.9 L59.2 356.2 L59.6 357.3 L60.1 358.4 L60.6 359.4 L61.2 360.3 L61.8 361.0 L62.5 361.7 L63.3 362.3 L64.2 362.8 L65.1 363.3 L66.2 363.6 L67.3 363.8 L68.5 364.0 L69.8 364.0 L71.3 364.0 L72.8 363.8 L74.5 363.6 L76.2 363.3 L78.1 362.8 L80.1 362.3 L82.1 361.7 L84.3 361.0 L86.5 360.3 L88.8 359.4 L91.2 358.4 L93.6 357.3 L96.0 356.2 L98.4 354.9 L100.8 353.6 L103.1 352.2 L105.4 350.6 L107.6 349.0 L109.7 347.4 L111.7 345.6 L113.5 343.8 L115.2 341.9 L116.8 339.9 L118.1 337.9 L119.3 335.8 L120.3 333.7 L121.0 331.6 L121.6 329.4 L121.9 327.3Z" stroke="#d6d6d6" stroke-width="1"/>
<path d="M198.2 303.7 L198.1 301.6 L198.0 299.5 L197.7 297.4 L197.2 295.4 L196.7 293.5 L196.1 291.6 L195.3 289.8 L194.4 288.1 L193.4 286.4 L192.2 284.8 L191.0 283.3 L189.6 281.9 L188.1 280.6 L186.5 279.3 L184.8 278.2 L183.0 277.1 L181.1 276.1 L179.1 275.2 L176.9 274.3 L174.7 273.6 L172.4 272.9 L170.1 272.3 L167.6 271.7 L165.1 271.3 L162.6 270.9 L160.0 270.6 L157.3 270.3 L154.7 270.1 L152.0 270.0 L149.4 270.0 L146.7 270.0 L144.1 270.1 L141.5 270.3 L138.9 270.6 L136.4 270.9 L134.0 271.3 L131.6 271.7 L129.3 272.3 L127.1 272.9 L125.0 273.6 L122.9 274.3 L121.0 275.2 L119.1 276.1 L117.4 277.1 L115.8 278.2 L114.2 279.3 L112.8 280.6 L111.5 281.9 L110.3 283.3 L109.2 284.8 L108.2 286.4 L107.3 288.1 L106.5 289.8 L105.9 291.6 L105.3 293.5 L104.8 295.4 L104.5 297.4 L104.2 299.5 L104.1 301.6 L104.0 303.7 L104.1 305.9 L104.2 308.0 L104.5 310.2 L104.8 312.4 L105.3 314.6 L105.9 316.8 L106.5 318.9 L107.3 321.1 L108.2 323.1 L109.2 325.2 L110.3 327.1 L111.5 329.0 L112.8 330.8 L114.2 332.6 L115.8 334.2 L117.4 335.8 L119.1 337.3 L121.0 338.6 L122.9 339.9 L125.0 341.1 L127.1 342.1 L129.3 343.1 L131.6 343.9 L134.0 344.7 L136.4 345.3 L138.9 345.8 L141.5 346.2 L144.1 346.5 L146.7 346.6 L149.4 346.7 L152.0 346.6 L154.7 346.5 L157.3 346.2 L160.0 345.8 L162.6 345.3 L165.1 344.7 L167.6 343.9 L170.1 343.1 L172.4 342.1 L174.7 341.1 L176.9 339.9 L179.1 338.6 L181.1 337.3 L183.0 335.8 L184.8 334.2 L186.5 332.6 L188.1 330.8 L189.6 329.0 L191.0 327.1 L192.2 325.2 L193.4 323.1 L194.4 321.1 L195.3 318.9 L196.1 316.8 L196.7 314.6 L197.2 312.4 L197.7 310.2 L198.0 308.0 L198.1 305.9Z" stroke="#d6d6d6" stroke-width="1"/>
<path d="M56.8 339.0 C56.8 335.0 57.3 329.3 58.0 325.0 C58.7 320.7 59.8 316.3 61.0 313.0 C62.2 309.7 63.3 307.5 65.0 305.0 C66.7 302.5 68.7 300.2 71.0 298.0 C73.3 295.8 76.0 293.7 79.0 292.0 C82.0 290.3 85.0 289.2 89.0 288.0 C93.0 286.8 97.3 285.9 103.0 285.0 C108.7 284.1 116.3 283.3 123.0 282.6 C129.7 281.9 135.4 281.5 143.0 281.0 C150.6 280.5 160.4 279.7 168.6 279.6 C176.8 279.5 185.6 280.1 192.3 280.5 C199.0 280.9 204.5 281.5 208.8 282.2 C213.1 282.9 215.7 283.6 218.3 284.8 C220.9 286.0 223.0 287.8 224.2 289.3 C225.4 290.8 225.8 292.1 225.4 294.0 C225.0 295.9 223.8 298.6 221.8 301.0 C219.8 303.4 217.3 305.6 213.6 308.2 C209.9 310.8 204.9 313.8 199.4 316.5 C193.9 319.2 186.8 322.3 180.5 324.7 C174.2 327.1 167.8 328.9 161.5 331.0 C155.2 333.1 149.4 335.2 143.0 337.0 C136.6 338.8 129.7 340.3 123.0 342.0 C116.3 343.7 109.7 345.4 103.0 347.0 C96.3 348.6 88.0 350.6 83.0 351.6 C78.0 352.6 76.3 352.8 73.0 353.0 C69.7 353.2 65.5 353.7 63.0 353.0 C60.5 352.3 59.0 351.3 58.0 349.0 C57.0 346.7 56.8 343.0 56.8 339.0Z" stroke="#555" stroke-width="0.9" stroke-dasharray="2.2 1.6"/>
<path d="M55.54 347.49 L55.74 346.58 L55.95 345.74 L56.16 344.97 L56.37 344.25 L56.58 343.57 L56.79 342.94 L57.00 342.35 L57.20 341.78 L57.41 341.24 L57.62 340.74 L57.83 340.25 L58.04 339.78 L58.25 339.34 L58.46 338.91 L58.67 338.50 L58.87 338.10 L59.08 337.72 L59.29 337.35 L59.50 337.00 L59.71 336.65 L59.92 336.32 L60.13 335.99 L60.34 335.68 L60.54 335.37 L60.75 335.08 L60.96 334.79 L61.17 334.50 L61.38 334.23 L61.59 333.96 L61.80 333.70 L62.00 333.44 L62.21 333.19 L62.42 332.95 L62.63 332.71 L62.84 332.47 L63.05 332.25 L63.26 332.02 L63.47 331.80 L63.67 331.58 L63.88 331.37 L65.97 329.45 L68.06 327.80 L70.14 326.36 L72.23 325.07 L74.32 323.91 L76.41 322.85 L78.49 321.87 L80.58 320.96 L82.67 320.11 L84.75 319.31 L86.84 318.56 L88.93 317.84 L91.01 317.16 L93.10 316.50 L95.19 315.88 L97.28 315.28 L99.36 314.70 L101.45 314.14 L103.54 313.59 L105.62 313.07 L107.71 312.56 L109.80 312.06 L111.89 311.58 L113.97 311.10 L116.06 310.64 L118.15 310.19 L120.23 309.74 L122.32 309.31 L124.41 308.88 L126.49 308.46 L128.58 308.04 L130.67 307.64 L132.76 307.23 L134.84 306.83 L136.93 306.44 L139.02 306.05 L141.10 305.67 L143.19 305.28 L145.28 304.90 L147.36 304.53 L149.45 304.15 L151.54 303.78 L153.63 303.41 L155.71 303.04 L157.80 302.68 L159.89 302.31 L161.97 301.94 L164.06 301.58 L166.15 301.21 L168.24 300.85 L170.32 300.48 L172.41 300.12 L174.50 299.75 L176.58 299.38 L178.67 299.01 L180.76 298.64 L182.84 298.27 L184.93 297.89 L187.02 297.51 L189.11 297.13 L191.19 296.74 L193.28 296.35 L195.37 295.95 L197.45 295.55 L199.54 295.14 L201.63 294.73 L203.71 294.31 L205.80 293.89 L207.89 293.45 L209.98 293.01 L212.06 292.56 L214.15 292.09 L216.24 291.62 L218.32 291.13 L220.41 290.62 L222.50 290.10 L224.59 289.57 L226.67 289.01 L228.76 288.43 L230.85 287.83 L232.93 287.19 L235.02 286.52 L237.11 285.82 L239.19 285.07 L241.28 284.26 L243.37 283.40 L245.46 282.45 L247.54 281.41 L249.63 280.24 L251.72 278.90 L252.24 278.53 L252.76 278.15 L253.28 277.75 L253.80 277.32 L254.33 276.88 L254.85 276.41 L255.37 275.91 L255.89 275.38 L256.41 274.81 L256.93 274.20 L257.46 273.53 L257.98 272.80 L258.50 271.99 L259.02 271.08 L259.54 270.02 L260.06 268.78" stroke="#2a2a2a" stroke-width="1.4" stroke-linecap="butt" stroke-linejoin="round"/>
<circle cx="70.6" cy="325.0" r="1.4" stroke="#666" stroke-width="0.7"/>
<circle cx="148.6" cy="303.6" r="1.4" stroke="#666" stroke-width="0.7"/>
<path d="M101.4 312.0 L99.4 315.6 L103.4 315.6 Z" stroke="#555" stroke-width="0.7"/>
</g>
<rect x="45.1" y="392.3" width="65.9" height="26.6" fill="#fff" stroke="#6f6f6f" stroke-width="1"/>
<path d="M52.1 401.5 h12.7" stroke="#2a2a2a" stroke-width="1.5"/>
<path d="M52.1 410.5 h12.9" stroke="#555" stroke-width="1" stroke-dasharray="2.2 1.6"/>
<text x="71.4" y="404.5" font-size="7.29" fill="#3c3c3c" stroke="#3c3c3c" stroke-width="0.15">SROC</text>
<text x="71.4" y="413.3" font-size="7.29" fill="#3c3c3c" stroke="#3c3c3c" stroke-width="0.15">conf.region</text>
<rect x="195.1" y="392.3" width="75.4" height="26.6" fill="#fff" stroke="#6f6f6f" stroke-width="1"/>
<circle cx="202.1" cy="401.3" r="1.3" fill="none" stroke="#444" stroke-width="0.8"/>
<path d="M202.1 408.3 L200.3 411.5 L203.9 411.5 Z" fill="none" stroke="#444" stroke-width="0.8"/>
<text x="208.5" y="404.5" font-size="7.29" fill="#3c3c3c" stroke="#3c3c3c" stroke-width="0.15">data</text>
<text x="208.5" y="413.3" font-size="7.29" fill="#3c3c3c" stroke="#3c3c3c" stroke-width="0.15">summary estimate</text>
<rect x="45.1" y="232.9" width="225.4" height="186.0" fill="none" stroke="#6f6f6f" stroke-width="1"/>
<path d="M53.4 418.9 v4" stroke="#606060" stroke-width="1"/>
<path d="M45.1 412.0 h-4.2" stroke="#606060" stroke-width="1"/>
<text x="53.4" y="435.0" font-size="7.2" fill="#4b4e56" text-anchor="middle">0.0</text>
<text transform="translate(35.0 412.0) rotate(-90)" font-size="7.2" fill="#4b4e56" text-anchor="middle">0.0</text>
<path d="M95.2 418.9 v4" stroke="#606060" stroke-width="1"/>
<path d="M45.1 377.6 h-4.2" stroke="#606060" stroke-width="1"/>
<text x="95.2" y="435.0" font-size="7.2" fill="#4b4e56" text-anchor="middle">0.2</text>
<text transform="translate(35.0 377.6) rotate(-90)" font-size="7.2" fill="#4b4e56" text-anchor="middle">0.2</text>
<path d="M136.9 418.9 v4" stroke="#606060" stroke-width="1"/>
<path d="M45.1 343.1 h-4.2" stroke="#606060" stroke-width="1"/>
<text x="136.9" y="435.0" font-size="7.2" fill="#4b4e56" text-anchor="middle">0.4</text>
<text transform="translate(35.0 343.1) rotate(-90)" font-size="7.2" fill="#4b4e56" text-anchor="middle">0.4</text>
<path d="M178.7 418.9 v4" stroke="#606060" stroke-width="1"/>
<path d="M45.1 308.7 h-4.2" stroke="#606060" stroke-width="1"/>
<text x="178.7" y="435.0" font-size="7.2" fill="#4b4e56" text-anchor="middle">0.6</text>
<text transform="translate(35.0 308.7) rotate(-90)" font-size="7.2" fill="#4b4e56" text-anchor="middle">0.6</text>
<path d="M220.4 418.9 v4" stroke="#606060" stroke-width="1"/>
<path d="M45.1 274.2 h-4.2" stroke="#606060" stroke-width="1"/>
<text x="220.4" y="435.0" font-size="7.2" fill="#4b4e56" text-anchor="middle">0.8</text>
<text transform="translate(35.0 274.2) rotate(-90)" font-size="7.2" fill="#4b4e56" text-anchor="middle">0.8</text>
<path d="M262.2 418.9 v4" stroke="#606060" stroke-width="1"/>
<path d="M45.1 239.8 h-4.2" stroke="#606060" stroke-width="1"/>
<text x="262.2" y="435.0" font-size="7.2" fill="#4b4e56" text-anchor="middle">1.0</text>
<text transform="translate(35.0 239.8) rotate(-90)" font-size="7.2" fill="#4b4e56" text-anchor="middle">1.0</text>
<text x="52.9" y="249.7" font-size="13.05" fill="#111" stroke="#111" stroke-width="0.3">Fat thickening</text>
<text x="177.5" y="371.7" font-size="13" fill="#111" stroke="#111" stroke-width="0.3">AUC: 0.62</text>
<text x="98.3" y="447.8" font-size="12.9" fill="#111" stroke="#111" stroke-width="0.3">False positive rate</text>
<text transform="translate(22.3 360.6) rotate(-90)" font-size="12.9" fill="#111" stroke="#111" stroke-width="0.3">Sensitivity</text>
<text x="18.6" y="428.6" font-size="16.2" font-weight="bold" fill="#000">C</text>
<clipPath id="clipD"><rect x="314.5" y="235.9" width="223.4" height="184.9"/></clipPath>
<g clip-path="url(#clipD)" fill="none">
<path d="M417.0 296.5 L416.8 295.2 L416.1 293.9 L414.9 292.7 L413.3 291.5 L411.2 290.3 L408.7 289.1 L405.8 288.0 L402.6 286.9 L398.9 285.8 L395.0 284.8 L390.8 283.9 L386.4 283.0 L381.8 282.1 L377.1 281.3 L372.5 280.5 L367.9 279.8 L363.4 279.2 L359.1 278.5 L355.0 278.0 L351.2 277.5 L347.6 277.0 L344.4 276.6 L341.5 276.2 L338.9 275.9 L336.6 275.6 L334.5 275.4 L332.8 275.2 L331.3 275.1 L330.0 275.0 L328.8 275.0 L327.9 275.0 L327.1 275.1 L326.4 275.2 L325.9 275.4 L325.4 275.6 L325.0 275.9 L324.7 276.2 L324.4 276.6 L324.2 277.0 L324.0 277.5 L323.8 278.0 L323.7 278.5 L323.5 279.2 L323.5 279.8 L323.4 280.5 L323.3 281.3 L323.2 282.1 L323.2 283.0 L323.2 283.9 L323.1 284.8 L323.1 285.8 L323.1 286.9 L323.1 288.0 L323.0 289.1 L323.0 290.3 L323.0 291.5 L323.0 292.7 L323.0 293.9 L323.0 295.2 L323.0 296.5 L323.0 297.8 L323.0 299.2 L323.0 300.5 L323.0 301.9 L323.0 303.2 L323.0 304.5 L323.1 305.9 L323.1 307.2 L323.1 308.5 L323.1 309.8 L323.2 311.0 L323.2 312.2 L323.2 313.4 L323.3 314.5 L323.4 315.6 L323.5 316.6 L323.5 317.6 L323.7 318.5 L323.8 319.3 L324.0 320.1 L324.2 320.8 L324.4 321.5 L324.7 322.1 L325.0 322.6 L325.4 323.0 L325.9 323.4 L326.4 323.6 L327.1 323.8 L327.9 324.0 L328.8 324.0 L330.0 324.0 L331.3 323.8 L332.8 323.6 L334.5 323.4 L336.6 323.0 L338.9 322.6 L341.5 322.1 L344.4 321.5 L347.6 320.8 L351.2 320.1 L355.0 319.3 L359.1 318.5 L363.4 317.6 L367.9 316.6 L372.5 315.6 L377.1 314.5 L381.8 313.4 L386.4 312.2 L390.8 311.0 L395.0 309.8 L398.9 308.5 L402.6 307.2 L405.8 305.9 L408.7 304.5 L411.2 303.2 L413.3 301.9 L414.9 300.5 L416.1 299.2 L416.8 297.8Z" stroke="#d6d6d6" stroke-width="1"/>
<path d="M366.0 323.9 L366.0 321.7 L365.9 319.5 L365.7 317.4 L365.5 315.3 L365.2 313.2 L364.9 311.2 L364.4 309.2 L364.0 307.3 L363.5 305.4 L362.9 303.6 L362.3 301.9 L361.7 300.3 L361.0 298.7 L360.2 297.3 L359.5 295.9 L358.7 294.6 L357.9 293.4 L357.0 292.3 L356.2 291.3 L355.3 290.4 L354.5 289.5 L353.6 288.8 L352.7 288.1 L351.9 287.6 L351.0 287.1 L350.2 286.7 L349.3 286.4 L348.5 286.2 L347.7 286.0 L346.9 286.0 L346.2 286.0 L345.4 286.2 L344.7 286.4 L344.0 286.7 L343.3 287.1 L342.7 287.6 L342.1 288.1 L341.5 288.8 L341.0 289.5 L340.5 290.4 L340.0 291.3 L339.5 292.3 L339.1 293.4 L338.7 294.6 L338.3 295.9 L337.9 297.3 L337.6 298.7 L337.3 300.3 L337.0 301.9 L336.8 303.6 L336.5 305.4 L336.3 307.3 L336.2 309.2 L336.0 311.2 L335.9 313.2 L335.8 315.3 L335.7 317.4 L335.6 319.5 L335.6 321.7 L335.6 323.9 L335.6 326.1 L335.6 328.3 L335.7 330.4 L335.8 332.6 L335.9 334.7 L336.0 336.8 L336.2 338.9 L336.3 340.8 L336.5 342.8 L336.8 344.6 L337.0 346.4 L337.3 348.2 L337.6 349.8 L337.9 351.4 L338.3 352.8 L338.7 354.2 L339.1 355.5 L339.5 356.7 L340.0 357.8 L340.5 358.8 L341.0 359.7 L341.5 360.5 L342.1 361.3 L342.7 361.9 L343.3 362.4 L344.0 362.8 L344.7 363.2 L345.4 363.4 L346.2 363.6 L346.9 363.6 L347.7 363.6 L348.5 363.4 L349.3 363.2 L350.2 362.8 L351.0 362.4 L351.9 361.9 L352.7 361.3 L353.6 360.5 L354.5 359.7 L355.3 358.8 L356.2 357.8 L357.0 356.7 L357.9 355.5 L358.7 354.2 L359.5 352.8 L360.2 351.4 L361.0 349.8 L361.7 348.2 L362.3 346.4 L362.9 344.6 L363.5 342.8 L364.0 340.8 L364.4 338.9 L364.9 336.8 L365.2 334.7 L365.5 332.6 L365.7 330.4 L365.9 328.3 L366.0 326.1Z" stroke="#d6d6d6" stroke-width="1"/>
<path d="M332.0 278.6 C333.5 278.4 335.3 278.8 338.0 280.0 C340.7 281.2 344.7 283.7 348.0 286.0 C351.3 288.3 354.7 291.0 358.0 294.0 C361.3 297.0 365.2 300.8 368.0 304.0 C370.8 307.2 373.2 309.8 375.0 313.0 C376.8 316.2 378.7 319.8 379.0 323.0 C379.3 326.2 378.3 329.3 377.0 332.0 C375.7 334.7 373.5 337.1 371.0 339.0 C368.5 340.9 365.2 342.5 362.0 343.4 C358.8 344.3 355.0 344.8 352.0 344.6 C349.0 344.4 346.5 343.4 344.0 342.0 C341.5 340.6 339.0 338.8 337.0 336.0 C335.0 333.2 333.3 328.8 332.0 325.0 C330.7 321.2 329.7 317.3 329.0 313.0 C328.3 308.7 327.8 303.3 327.6 299.0 C327.4 294.7 327.4 290.0 327.6 287.0 C327.8 284.0 328.3 282.4 329.0 281.0 C329.7 279.6 330.5 278.8 332.0 278.6Z" stroke="#555" stroke-width="0.9" stroke-dasharray="2.2 1.6"/>
<path d="M324.43 366.63 L324.64 364.47 L324.84 362.47 L325.05 360.59 L325.26 358.83 L325.46 357.16 L325.67 355.58 L325.88 354.09 L326.08 352.66 L326.29 351.29 L326.50 349.98 L326.70 348.73 L326.91 347.53 L327.12 346.37 L327.32 345.25 L327.53 344.17 L327.74 343.13 L327.95 342.12 L328.15 341.14 L328.36 340.19 L328.57 339.27 L328.77 338.38 L328.98 337.51 L329.19 336.67 L329.39 335.84 L329.60 335.04 L329.81 334.26 L330.01 333.50 L330.22 332.76 L330.43 332.03 L330.63 331.33 L330.84 330.63 L331.05 329.96 L331.25 329.29 L331.46 328.65 L331.67 328.01 L331.88 327.39 L332.08 326.78 L332.29 326.18 L332.50 325.60 L332.70 325.02 L332.91 324.46 L333.12 323.91 L335.19 318.88 L337.25 314.59 L339.32 310.87 L341.39 307.58 L343.46 304.65 L345.53 302.00 L347.60 299.60 L349.66 297.40 L351.73 295.38 L353.80 293.50 L355.87 291.76 L357.94 290.14 L360.01 288.62 L362.08 287.18 L364.14 285.84 L366.21 284.56 L368.28 283.35 L370.35 282.20 L372.42 281.11 L374.49 280.07 L376.56 279.07 L378.62 278.11 L380.69 277.20 L382.76 276.32 L384.83 275.48 L386.90 274.66 L388.97 273.88 L391.04 273.12 L393.10 272.39 L395.17 271.68 L397.24 270.99 L399.31 270.33 L401.38 269.68 L403.45 269.06 L405.51 268.45 L407.58 267.85 L409.65 267.27 L411.72 266.71 L413.79 266.16 L415.86 265.63 L417.93 265.10 L419.99 264.59 L422.06 264.09 L424.13 263.60 L426.20 263.12 L428.27 262.65 L430.34 262.19 L432.41 261.74 L434.47 261.29 L436.54 260.86 L438.61 260.43 L440.68 260.01 L442.75 259.59 L444.82 259.18 L446.89 258.78 L448.95 258.38 L451.02 257.99 L453.09 257.61 L455.16 257.23 L457.23 256.85 L459.30 256.48 L461.36 256.11 L463.43 255.74 L465.50 255.38 L467.57 255.03 L469.64 254.67 L471.71 254.32 L473.78 253.97 L475.84 253.62 L477.91 253.28 L479.98 252.94 L482.05 252.59 L484.12 252.25 L486.19 251.91 L488.26 251.57 L490.32 251.24 L492.39 250.90 L494.46 250.56 L496.53 250.22 L498.60 249.87 L500.67 249.53 L502.74 249.18 L504.80 248.83 L506.87 248.48 L508.94 248.12 L511.01 247.75 L513.08 247.38 L515.15 246.99 L517.21 246.59 L519.28 246.17 L519.80 246.07 L520.32 245.96 L520.83 245.85 L521.35 245.73 L521.87 245.62 L522.39 245.50 L522.90 245.38 L523.42 245.26 L523.94 245.14 L524.45 245.01 L524.97 244.87 L525.49 244.74 L526.01 244.59 L526.52 244.44 L527.04 244.28 L527.56 244.11" stroke="#2a2a2a" stroke-width="1.4" stroke-linecap="butt" stroke-linejoin="round"/>
<circle cx="347.0" cy="307.0" r="1.4" stroke="#666" stroke-width="0.7"/>
<circle cx="322.0" cy="328.4" r="1.4" stroke="#666" stroke-width="0.7"/>
<path d="M341.0 305.8 L339.0 309.4 L343.0 309.4 Z" stroke="#555" stroke-width="0.7"/>
</g>
<rect x="314.5" y="394.2" width="65.9" height="26.6" fill="#fff" stroke="#6f6f6f" stroke-width="1"/>
<path d="M321.5 403.5 h12.7" stroke="#2a2a2a" stroke-width="1.5"/>
<path d="M321.5 412.5 h12.9" stroke="#555" stroke-width="1" stroke-dasharray="2.2 1.6"/>
<text x="340.8" y="406.4" font-size="7.29" fill="#3c3c3c" stroke="#3c3c3c" stroke-width="0.15">SROC</text>
<text x="340.8" y="415.2" font-size="7.29" fill="#3c3c3c" stroke="#3c3c3c" stroke-width="0.15">conf.region</text>
<rect x="462.5" y="394.2" width="75.4" height="26.6" fill="#fff" stroke="#6f6f6f" stroke-width="1"/>
<circle cx="469.5" cy="403.2" r="1.3" fill="none" stroke="#444" stroke-width="0.8"/>
<path d="M469.5 410.2 L467.7 413.4 L471.3 413.4 Z" fill="none" stroke="#444" stroke-width="0.8"/>
<text x="475.9" y="406.4" font-size="7.29" fill="#3c3c3c" stroke="#3c3c3c" stroke-width="0.15">data</text>
<text x="475.9" y="415.2" font-size="7.29" fill="#3c3c3c" stroke="#3c3c3c" stroke-width="0.15">summary estimate</text>
<rect x="314.5" y="235.9" width="223.4" height="184.9" fill="none" stroke="#6f6f6f" stroke-width="1"/>
<path d="M322.8 420.8 v4" stroke="#606060" stroke-width="1"/>
<path d="M314.5 414.0 h-4.2" stroke="#606060" stroke-width="1"/>
<text x="322.8" y="436.7" font-size="7.2" fill="#4b4e56" text-anchor="middle">0.0</text>
<text transform="translate(304.3 414.0) rotate(-90)" font-size="7.2" fill="#4b4e56" text-anchor="middle">0.0</text>
<path d="M364.1 420.8 v4" stroke="#606060" stroke-width="1"/>
<path d="M314.5 379.7 h-4.2" stroke="#606060" stroke-width="1"/>
<text x="364.1" y="436.7" font-size="7.2" fill="#4b4e56" text-anchor="middle">0.2</text>
<text transform="translate(304.3 379.7) rotate(-90)" font-size="7.2" fill="#4b4e56" text-anchor="middle">0.2</text>
<path d="M405.5 420.8 v4" stroke="#606060" stroke-width="1"/>
<path d="M314.5 345.5 h-4.2" stroke="#606060" stroke-width="1"/>
<text x="405.5" y="436.7" font-size="7.2" fill="#4b4e56" text-anchor="middle">0.4</text>
<text transform="translate(304.3 345.5) rotate(-90)" font-size="7.2" fill="#4b4e56" text-anchor="middle">0.4</text>
<path d="M446.9 420.8 v4" stroke="#606060" stroke-width="1"/>
<path d="M314.5 311.2 h-4.2" stroke="#606060" stroke-width="1"/>
<text x="446.9" y="436.7" font-size="7.2" fill="#4b4e56" text-anchor="middle">0.6</text>
<text transform="translate(304.3 311.2) rotate(-90)" font-size="7.2" fill="#4b4e56" text-anchor="middle">0.6</text>
<path d="M488.3 420.8 v4" stroke="#606060" stroke-width="1"/>
<path d="M314.5 277.0 h-4.2" stroke="#606060" stroke-width="1"/>
<text x="488.3" y="436.7" font-size="7.2" fill="#4b4e56" text-anchor="middle">0.8</text>
<text transform="translate(304.3 277.0) rotate(-90)" font-size="7.2" fill="#4b4e56" text-anchor="middle">0.8</text>
<path d="M529.6 420.8 v4" stroke="#606060" stroke-width="1"/>
<path d="M314.5 242.7 h-4.2" stroke="#606060" stroke-width="1"/>
<text x="529.6" y="436.7" font-size="7.2" fill="#4b4e56" text-anchor="middle">1.0</text>
<text transform="translate(304.3 242.7) rotate(-90)" font-size="7.2" fill="#4b4e56" text-anchor="middle">1.0</text>
<text x="321.0" y="252.5" font-size="13.05" fill="#111" stroke="#111" stroke-width="0.3">Pleural enhancement</text>
<text x="440.6" y="371.6" font-size="13" fill="#111" stroke="#111" stroke-width="0.3">AUC: 0.83</text>
<text x="365.8" y="448.5" font-size="12.9" fill="#111" stroke="#111" stroke-width="0.3">False positive rate</text>
<text transform="translate(290.3 360.6) rotate(-90)" font-size="12.9" fill="#111" stroke="#111" stroke-width="0.3">Sensitivity</text>
<text x="283.0" y="429.6" font-size="16.2" font-weight="bold" fill="#000">D</text>
</svg>
</body></html>
